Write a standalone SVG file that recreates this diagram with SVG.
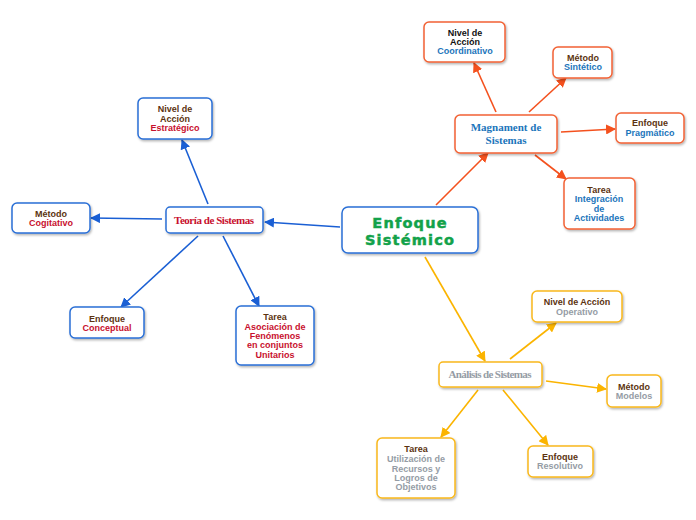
<svg xmlns="http://www.w3.org/2000/svg" width="696" height="520" viewBox="0 0 696 520">
<style>
.bx{fill:#fff;stroke-width:1.5;filter:url(#sh)}
.b{stroke:#2a6fd6}.o{stroke:#f26234}.y{stroke:#f9b81c}
.t{font-family:"Liberation Sans",Arial,sans-serif;font-weight:bold;font-size:9px;text-anchor:middle}
.h{fill:#5c3310}.r{fill:#c8102e}.u{fill:#1b75bb}.g{fill:#959ca5}.k{fill:#111}
.bl{font-family:"Liberation Serif","Times New Roman",serif;font-weight:bold;font-size:11px;text-anchor:middle}
.ce{font-family:"DejaVu Sans",sans-serif;font-weight:bold;font-size:14.5px;letter-spacing:1.2px;fill:#12a24a;stroke:#12a24a;stroke-width:0.5;text-anchor:middle}
.cb{stroke:#1a5fd4;stroke-width:1.6;fill:none;marker-end:url(#ab)}
.co{stroke:#f4511e;stroke-width:1.6;fill:none;marker-end:url(#ao)}
.cy{stroke:#fbb400;stroke-width:1.6;fill:none;marker-end:url(#ay)}
</style>
<defs>
<filter id="sh" x="-10%" y="-10%" width="130%" height="140%"><feDropShadow dx="1" dy="1.5" stdDeviation="1" flood-color="#000" flood-opacity="0.3"/></filter>
<marker id="ab" markerWidth="10" markerHeight="10" refX="9" refY="5" orient="auto" markerUnits="userSpaceOnUse"><path d="M0,0 L10,5 L0,10 z" fill="#1a5fd4"/></marker>
<marker id="ao" markerWidth="10" markerHeight="10" refX="9" refY="5" orient="auto" markerUnits="userSpaceOnUse"><path d="M0,0 L10,5 L0,10 z" fill="#f4511e"/></marker>
<marker id="ay" markerWidth="10" markerHeight="10" refX="9" refY="5" orient="auto" markerUnits="userSpaceOnUse"><path d="M0,0 L10,5 L0,10 z" fill="#fbb400"/></marker>
</defs>
<rect width="696" height="520" fill="#fff"/>
<g id="connectors">
<line class="cb" x1="340" y1="227" x2="265" y2="222"/>
<line class="cb" x1="208" y1="204" x2="182" y2="140"/>
<line class="cb" x1="162" y1="219" x2="91" y2="218"/>
<line class="cb" x1="198" y1="236" x2="121" y2="307"/>
<line class="cb" x1="223" y1="236" x2="259" y2="306"/>
<line class="co" x1="436" y1="205" x2="488" y2="153"/>
<line class="co" x1="496" y1="112" x2="474" y2="63"/>
<line class="co" x1="529" y1="112" x2="566" y2="78"/>
<line class="co" x1="561" y1="132" x2="615" y2="129"/>
<line class="co" x1="535" y1="155" x2="566" y2="179"/>
<line class="cy" x1="425" y1="257" x2="485" y2="361"/>
<line class="cy" x1="510" y1="359" x2="556" y2="323"/>
<line class="cy" x1="546" y1="381" x2="606" y2="389"/>
<line class="cy" x1="478" y1="390" x2="441" y2="437"/>
<line class="cy" x1="503" y1="390" x2="548" y2="445"/>
</g>
<g id="central">
<rect class="bx b" x="342" y="207" width="136" height="46" rx="6"/>
<text class="ce" x="410" y="228">Enfoque</text>
<text class="ce" x="410" y="245">Sistémico</text>
</g>
<g id="teoria">
<rect class="bx b" x="166" y="207" width="97" height="26" rx="4"/>
<text class="bl r" x="214" y="224" textLength="80">Teoría de Sistemas</text>
</g>
<g id="nivel-estrategico">
<rect class="bx b" x="138" y="98" width="74" height="41" rx="5"/>
<text class="t h" x="175" y="112">Nivel de</text>
<text class="t h" x="175" y="122">Acción</text>
<text class="t r" x="175" y="131">Estratégico</text>
</g>
<g id="metodo-cogitativo">
<rect class="bx b" x="12" y="203" width="78" height="30" rx="5"/>
<text class="t h" x="51" y="217">Método</text>
<text class="t r" x="51" y="226">Cogitativo</text>
</g>
<g id="enfoque-conceptual">
<rect class="bx b" x="70" y="307" width="74" height="31" rx="5"/>
<text class="t h" x="107" y="322">Enfoque</text>
<text class="t r" x="107" y="331">Conceptual</text>
</g>
<g id="tarea-asociacion">
<rect class="bx b" x="236" y="306" width="78" height="59" rx="5"/>
<text class="t h" x="275" y="320">Tarea</text>
<text class="t r" x="275" y="329.5">Asociación de</text>
<text class="t r" x="275" y="339">Fenómenos</text>
<text class="t r" x="275" y="348">en conjuntos</text>
<text class="t r" x="275" y="357.5">Unitarios</text>
</g>
<g id="magnament">
<rect class="bx o" x="455" y="115" width="102" height="38" rx="5"/>
<text class="bl u" x="506" y="131">Magnament de</text>
<text class="bl u" x="506" y="144">Sistemas</text>
</g>
<g id="nivel-coordinativo">
<rect class="bx o" x="424" y="22" width="81" height="40" rx="5"/>
<text class="t k" x="465" y="36">Nivel de</text>
<text class="t k" x="465" y="45">Acción</text>
<text class="t u" x="465" y="54">Coordinativo</text>
</g>
<g id="metodo-sintetico">
<rect class="bx o" x="553" y="47" width="59" height="31" rx="5"/>
<text class="t h" x="583" y="61">Método</text>
<text class="t u" x="583" y="70">Sintético</text>
</g>
<g id="enfoque-pragmatico">
<rect class="bx o" x="616" y="113" width="68" height="30" rx="5"/>
<text class="t h" x="650" y="126">Enfoque</text>
<text class="t u" x="650" y="136">Pragmático</text>
</g>
<g id="tarea-integracion">
<rect class="bx o" x="564" y="178" width="71" height="51" rx="5"/>
<text class="t h" x="599" y="193">Tarea</text>
<text class="t u" x="599" y="202">Integración</text>
<text class="t u" x="599" y="212">de</text>
<text class="t u" x="599" y="221">Actividades</text>
</g>
<g id="analisis">
<rect class="bx y" x="439" y="362" width="103" height="25" rx="4"/>
<text class="bl g" x="490" y="378" textLength="83">Análisis de Sistemas</text>
</g>
<g id="nivel-operativo">
<rect class="bx y" x="532" y="291" width="90" height="31" rx="5"/>
<text class="t h" x="577" y="305">Nivel de Acción</text>
<text class="t g" x="577" y="315">Operativo</text>
</g>
<g id="metodo-modelos">
<rect class="bx y" x="607" y="375" width="54" height="32" rx="5"/>
<text class="t h" x="634" y="390">Método</text>
<text class="t g" x="634" y="399">Modelos</text>
</g>
<g id="tarea-utilizacion">
<rect class="bx y" x="377" y="438" width="78" height="60" rx="5"/>
<text class="t h" x="416" y="452">Tarea</text>
<text class="t g" x="416" y="462">Utilización de</text>
<text class="t g" x="416" y="472">Recursos y</text>
<text class="t g" x="416" y="481">Logros de</text>
<text class="t g" x="416" y="490">Objetivos</text>
</g>
<g id="enfoque-resolutivo">
<rect class="bx y" x="528" y="446" width="65" height="31" rx="5"/>
<text class="t h" x="560" y="460">Enfoque</text>
<text class="t g" x="560" y="469">Resolutivo</text>
</g>
</svg>
